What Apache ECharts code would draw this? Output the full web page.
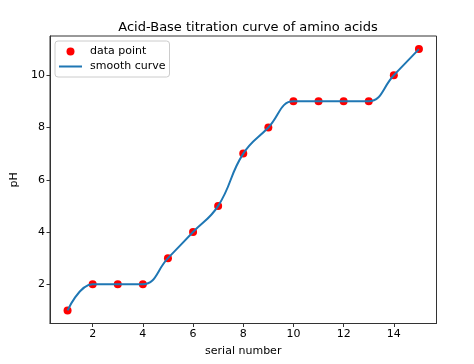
<!DOCTYPE html>
<html>
<head>
<meta charset="utf-8">
<script src="https://cdn.jsdelivr.net/npm/echarts@6/dist/echarts.min.js"></script>
<style>html,body{margin:0;padding:0;background:#fff}#c{width:474px;height:364px}</style>
</head>
<body>
<div id="c"></div>
<script>
var serialNumbers = [1,2,3,4,5,6,7,8,9,10,11,12,13,14,15];
var phValues = [1,2,2,2,3,4,5,7,8,9,9,9,9,10,11];
var xTicks = [2,4,6,8,10,12,14];
var yTicks = [2,4,6,8,10];

var pts = serialNumbers.map(function(x,i){return [x, phValues[i]];});
var font = 'DejaVu Sans';
var lineIcon = 'path://M0,0 L0.01,0 L0,0.01 Z M0,3 L24,3 L24,5 L0,5 Z M0,8 L0.01,8 L0,7.99 Z';
var chart = echarts.init(document.getElementById('c'));
chart.setOption({
  animation: false,
  backgroundColor: '#fff',
  title: {
    text: 'Acid-Base titration curve of amino acids',
    left: 243, top: 16, textAlign: 'center',
    textStyle: {fontFamily: font, fontSize: 13, fontWeight: 'normal', color: '#000'}
  },
  legend: {
    orient: 'vertical', left: 55, top: 41,
    itemWidth: 23, itemHeight: 8, itemGap: 4,
    padding: [5, 4, 5, 4],
    borderColor: '#ccc', borderWidth: 1, borderRadius: 3,
    backgroundColor: 'rgba(255,255,255,0.8)',
    textStyle: {fontFamily: font, fontSize: 11, color: '#000', padding: [0,0,0,3]},
    data: [
      {name: 'data point', icon: 'circle'},
      {name: 'smooth curve', icon: lineIcon, itemStyle: {color: '#1f77b4', borderWidth: 0}}
    ]
  },
  grid: {left: 50, right: 37.5, top: 36, bottom: 40.5, show: true, borderColor: '#333', borderWidth: 1},
  xAxis: {
    type: 'value', min: 0.3, max: 15.7,
    name: 'serial number', nameLocation: 'middle', nameGap: 22,
    nameTextStyle: {fontFamily: font, fontSize: 11, color: '#000'},
    axisLine: {show: true, lineStyle: {color: '#333'}},
    axisTick: {show: true, length: 3.5, customValues: xTicks, lineStyle: {color: '#333'}},
    axisLabel: {customValues: xTicks, fontFamily: font, fontSize: 11, color: '#000', margin: 5},
    splitLine: {show: false}
  },
  yAxis: {
    type: 'value', min: 0.5, max: 11.5,
    name: 'pH', nameLocation: 'middle', nameGap: 21,
    nameTextStyle: {fontFamily: font, fontSize: 11, color: '#000'},
    axisLine: {show: true, lineStyle: {color: '#333'}},
    axisTick: {show: true, length: 3.5, customValues: yTicks, lineStyle: {color: '#333'}},
    axisLabel: {customValues: yTicks, fontFamily: font, fontSize: 11, color: '#000', margin: 5},
    splitLine: {show: false}
  },
  series: [
    {
      name: 'data point', type: 'scatter', data: pts,
      symbol: 'circle', symbolSize: 8, z: 2,
      itemStyle: {color: '#ff0000', opacity: 1}
    },
    {
      name: 'smooth curve', type: 'line', data: pts,
      smooth: 0.45, symbol: 'none', z: 3,
      lineStyle: {color: '#1f77b4', width: 2},
      itemStyle: {color: '#1f77b4'}
    }
  ]
});
</script>
</body>
</html>
